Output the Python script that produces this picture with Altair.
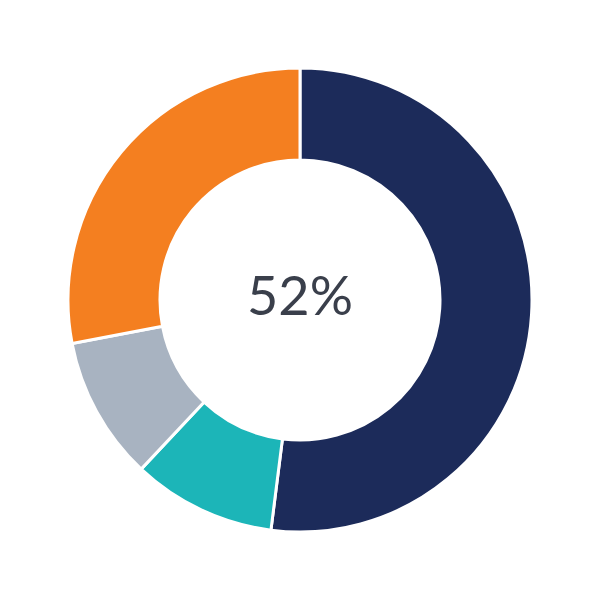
import pandas as pd
import altair as alt

# slice order runs clockwise from 12 o'clock
segments = ["A", "B", "C", "D"]
shares = [52, 10, 10, 28]
colors = ["#1c2b5a", "#1cb5b8", "#a8b3c1", "#f47f20"]
center_label = "52%"

df = pd.DataFrame({"segment": segments, "share": shares, "order": range(len(segments))})

donut = alt.Chart(df).mark_arc(
    outerRadius=232, innerRadius=140, stroke="white", strokeWidth=3
).encode(
    theta=alt.Theta("share:Q", stack=True),
    order=alt.Order("order:Q"),
    color=alt.Color("segment:N", scale=alt.Scale(domain=segments, range=colors), legend=None),
)

label = alt.Chart(pd.DataFrame({"text": [center_label]})).mark_text(
    font="Lato", fontSize=54, fontWeight=400, color="#3a3f4b", baseline="middle", align="center"
).encode(
    text="text:N",
    x=alt.value(292),
    y=alt.value(291),
)

chart = alt.layer(donut, label).properties(
    width=584, height=584, padding=0, autosize=alt.AutoSizeParams(type="none")
).configure_view(stroke=None)

chart.save("out.html", embed_options={"renderer": "svg", "actions": False})
